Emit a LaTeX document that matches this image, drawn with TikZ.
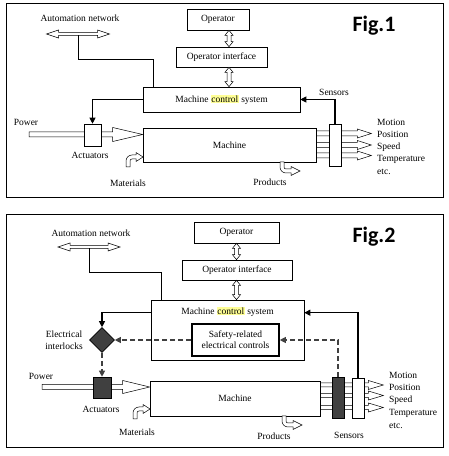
\documentclass[tikz,border=0pt]{standalone}
\usepackage{fontspec}
\setmainfont{Liberation Serif}
\newfontfamily\figfont{Carlito}
\usetikzlibrary{arrows.meta,calc,shapes.geometric}
\pgfdeclarelayer{bg}
\pgfsetlayers{bg,main}
\definecolor{hly}{RGB}{255,255,150}
\definecolor{darkfill}{RGB}{64,64,64}
\setlength{\fboxsep}{0.5pt}
\newcommand\hlc[1]{\colorbox{hly}{#1}}
% hollow arrow: start, tip, shaft half, head half, head length
\newcommand\hollowarrow[5]{\draw[hollow] let \p1=#1, \p2=#2 in
  (\x1,\y2+#3) -- (\x2-#5,\y2+#3) -- (\x2-#5,\y2+#4) -- (\x2,\y2)
  -- (\x2-#5,\y2-#4) -- (\x2-#5,\y2-#3) -- (\x1,\y2-#3) -- cycle;}
% hollow double arrows
\newcommand\dblarrowV[2]{\draw[hollow] let \p1=#1, \p2=#2 in
  (\x1,\y1) -- (\x1+4,\y1-5) -- (\x1+2,\y1-5) -- (\x1+2,\y2+5) -- (\x1+4,\y2+5)
  -- (\x1,\y2) -- (\x1-4,\y2+5) -- (\x1-2,\y2+5) -- (\x1-2,\y1-5) -- (\x1-4,\y1-5) -- cycle;}
\newcommand\dblarrowH[2]{\draw[hollow] let \p1=#1, \p2=#2 in
  (\x1,\y1) -- (\x1+12,\y1+4) -- (\x1+12,\y1+1.5) -- (\x2-12,\y1+1.5) -- (\x2-12,\y1+4)
  -- (\x2,\y1) -- (\x2-12,\y1-4) -- (\x2-12,\y1-1.5) -- (\x1+12,\y1-1.5) -- (\x1+12,\y1-4) -- cycle;}
\tikzset{
  box/.style={draw, fill=white, line width=0.6pt, inner sep=0pt, font=\fontsize{9.5}{11}\selectfont},
  lbl/.style={inner sep=0pt, font=\fontsize{9.5}{12}\selectfont},
  hollow/.style={draw, fill=white, line width=0.5pt},
  ctrl/.style={line width=1.1pt, -{Triangle[length=6pt,width=6pt]}},
  safeline/.style={line width=1.1pt, draw=darkfill, dash pattern=on 5pt off 3pt, -{Triangle[length=6pt,width=6pt]}},
  netline/.style={line width=0.8pt},
  figlbl/.style={inner sep=0pt, font=\figfont\bfseries\fontsize{22}{24}\selectfont},
  matarrow/.pic={\draw[hollow] (0,0) -- (0,6) arc[start angle=180,end angle=90,radius=6pt]
    -- (10,12) -- (10,14.5) -- (17,10) -- (10,5.5) -- (10,8) -- (6,8)
    arc[start angle=90,end angle=180,radius=2pt] -- (4,0) -- cycle;},
  prodarrow/.pic={\draw[hollow] (0,0) -- (0,-5) arc[start angle=180,end angle=270,radius=6pt]
    -- (11,-11) -- (11,-13.5) -- (20,-9) -- (11,-4.5) -- (11,-7) -- (6,-7)
    arc[start angle=270,end angle=180,radius=2pt] -- (4,0) -- cycle;}
}
\begin{document}
\begin{tikzpicture}[x=1pt,y=1pt]
  \useasboundingbox (0,0) rectangle (448,456);

  %Fig.1
  \draw[line width=0.8pt] (6,259) rectangle (443,453);
  \node[figlbl] (fig1) at (374,430) {Fig.1};
  \node[box, minimum width=62pt, minimum height=21pt] (op1) at (218,436.5) {Operator};
  \node[box, minimum width=91pt, minimum height=20pt] (oi1) at (221.5,399) {Operator interface};
  \node[box, minimum width=157pt, minimum height=25pt] (mcs1) at (221.5,356.5) {Machine \hlc{control} system};
  \node[box, minimum width=17pt, minimum height=22pt] (act1) at (92.5,321) {};
  \node[box, minimum width=173pt, minimum height=34pt] (mach1) at (229.5,311) {Machine};
  \node[box, minimum width=12pt, minimum height=42pt] (sens1) at (335,311) {};

  \node[lbl] (an1) at (80,438) {Automation network};
  \node[lbl] (pwl1) at (26,334) {Power};
  \node[lbl] (actl1) at (90,301) {Actuators};
  \node[lbl] (matl1) at (128,273) {Materials};
  \node[lbl] (prodl1) at (270,274) {Products};
  \node[lbl] (sensl1) at (334,364) {Sensors};
  \foreach \t [count=\i] in {Motion,Position,Speed,Temperature,etc.}
    \node[lbl, anchor=west] (out1-\i) at (377,{346.5-12.5*\i}) {\t};

  \coordinate (ax1) at (229,0);
  \dblarrowV{(ax1 |- op1.south)}{(ax1 |- oi1.north)}
  \dblarrowV{(ax1 |- oi1.south)}{(ax1 |- mcs1.north)}
  \coordinate (net1) at (78,422);
  \dblarrowH{([xshift=-31.5pt]net1)}{([xshift=31.5pt]net1)}
  \draw[netline] ([yshift=-1.5pt]net1) -- ++(0,-23.5) -| ([xshift=11pt]mcs1.north west);

  \draw[ctrl] (mcs1.west) -| (act1.north);
  \draw[ctrl] (sens1.north) |- (mcs1.east);

  \begin{pgfonlayer}{bg}
    \coordinate (pw1) at (29,321.5);
    \hollowarrow{(pw1)}{(mach1.west |- pw1)}{2.5}{7}{30}
    \foreach \dy in {11.5,0,-10.5}{
      \hollowarrow{([yshift=\dy pt]mach1.east)}{([xshift=30pt,yshift=\dy pt]sens1.east)}{2.5}{4.5}{14}
    }
  \end{pgfonlayer}
  \pic at (126,289) {matarrow};
  \pic at (280,294) {prodarrow};

  %Fig.2
  \draw[line width=0.8pt] (6,9) rectangle (443,242);
  \node[figlbl] (fig2) at (374,219) {Fig.2};
  \node[box, minimum width=85pt, minimum height=21pt] (op2) at (236.5,223.5) {Operator};
  \node[box, minimum width=110pt, minimum height=20pt] (oi2) at (237,186) {Operator interface};
  \node[box, minimum width=153pt, minimum height=60pt] (mcs2) at (227.5,126) {};
  \node[lbl] (mcsl2) at (227.5,144) {Machine \hlc{control} system};
  \node[box, line width=1.6pt, minimum width=87pt, minimum height=32pt, align=center,
    font=\fontsize{9.5}{11}\selectfont] (safe) at (235.5,116) {Safety-related\\electrical controls};
  \node[diamond, aspect=1, minimum size=25pt, inner sep=0pt, fill=darkfill, draw=black, line width=0.6pt] (il) at (102,116) {};
  \node[box, fill=darkfill, minimum width=18pt, minimum height=21pt] (act2) at (102,68.5) {};
  \node[box, minimum width=170pt, minimum height=35pt] (mach2) at (235,57.5) {Machine};
  \node[box, fill=darkfill, minimum width=12pt, minimum height=41pt] (sensD) at (338,58.5) {};
  \node[box, minimum width=12pt, minimum height=40pt] (sensW) at (358,58) {};

  \node[lbl] (an2) at (91,223) {Automation network};
  \node[lbl, align=center] (ill) at (64,116) {Electrical\\interlocks};
  \node[lbl] (pwl2) at (41,80) {Power};
  \node[lbl] (actl2) at (101,47) {Actuators};
  \node[lbl] (matl2) at (137,24) {Materials};
  \node[lbl] (prodl2) at (274,20) {Products};
  \node[lbl] (sensl2) at (349,21) {Sensors};
  \foreach \t [count=\i] in {Motion,Position,Speed,Temperature,etc.}
    \node[lbl, anchor=west] (out2-\i) at (389,{93.75-12.75*\i}) {\t};

  \dblarrowV{(op2.south)}{(op2.south |- oi2.north)}
  \dblarrowV{(op2.south |- oi2.south)}{(op2.south |- mcs2.north)}
  \coordinate (net2) at (89,209);
  \dblarrowH{([xshift=-31pt]net2)}{([xshift=31pt]net2)}
  \draw[netline] ([yshift=-1.5pt]net2) -- ++(0,-23.5) -| ([xshift=11pt]mcs2.north west);

  \draw[ctrl] ([yshift=-13pt]mcs2.north west) -| (il.north);
  \draw[ctrl] (sensW.north) |- ([yshift=-13pt]mcs2.north east);
  \draw[safeline] (sensD.north) |- (safe.east);
  \draw[safeline] (safe.west) -- (il.east);
  \draw[safeline] (il.south) -- (act2.north);

  \begin{pgfonlayer}{bg}
    \coordinate (pw2) at (42,69);
    \hollowarrow{(pw2)}{(mach2.west |- pw2)}{2.5}{6.5}{27}
    \foreach \dy in {13,2.5,-9.5}{
      \hollowarrow{([yshift=\dy pt]mach2.east)}{([xshift=19pt,yshift=\dy pt]sensW.east)}{2}{4.5}{15}
    }
  \end{pgfonlayer}
  \pic at (133,37) {matarrow};
  \pic at (282,40) {prodarrow};
\end{tikzpicture}
\end{document}
